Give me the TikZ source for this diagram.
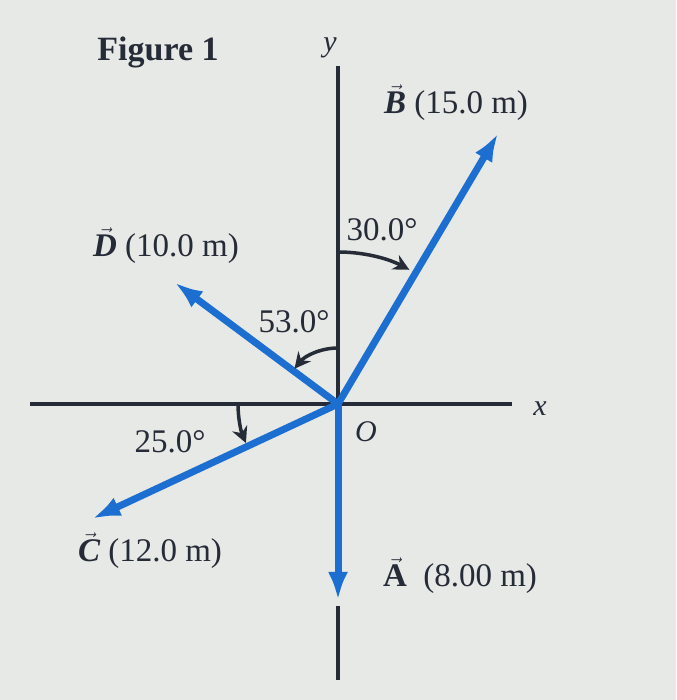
\documentclass[tikz,border=0pt]{standalone}
\usepackage{fontspec}
\setmainfont{Liberation Serif}
\usetikzlibrary{arrows.meta}
\definecolor{bgc}{HTML}{E6E9E5}
\definecolor{vecblue}{HTML}{1C6FD0}
\definecolor{axisc}{HTML}{262B38}
\definecolor{txtc}{HTML}{262B38}
\newcommand\vlab[1]{\ensuremath{\vec{\mbox{#1}}}}
\begin{document}
\begin{tikzpicture}[x=1pt,y=1pt,
  lab/.style={text=txtc,font=\fontsize{33}{38}\selectfont,inner sep=0pt},
  axisline/.style={draw=axisc,line width=4pt},
  vecline/.style={draw=vecblue,line width=7pt,-{Latex[length=28pt,width=20pt]},shorten >=-4pt},
  arcarrow/.style={draw=axisc,line width=3.5pt,-{Stealth[length=16pt,width=16pt]}}]
\fill[bgc] (0,0) rectangle (676,700);
\useasboundingbox (0,0) rectangle (676,700);
\coordinate (O) at (338,296);
\coordinate (ytop) at (338,634);
\coordinate (ylow1) at (338,94);
\coordinate (ylow2) at (338,20);
\coordinate (xl) at (30,296);
\coordinate (xr) at (512,296);
\coordinate (Btip) at (496,563);
\coordinate (Dtip) at (178,415);
\coordinate (Ctip) at (96,183);
\coordinate (Atip) at (338,104);
% axes
\draw[axisline] (xl) -- (xr);
\draw[axisline] (ytop) -- (O);
\draw[axisline] (ylow1) -- (ylow2);
% vectors
\draw[vecline] (O) -- (Atip);
\draw[vecline] (O) -- (Ctip);
\draw[vecline] (O) -- (Dtip);
\draw[vecline] (O) -- (Btip);
% angle arcs
\draw[arcarrow] ([shift={(90:152)}]O) arc[start angle=90,end angle=62,radius=152];
\draw[arcarrow] ([shift={(90:56)}]O) arc[start angle=90,end angle=141,radius=56];
\draw[arcarrow] ([shift={(180:100)}]O) arc[start angle=180,end angle=203,radius=100];
% labels
\node[lab,font=\fontsize{34}{38}\selectfont\bfseries] (fig) at (158,648) {Figure 1};
\node[lab,font=\fontsize{30}{34}\selectfont\itshape] (ylab) at (330,652) {y};
\node[lab,font=\fontsize{30}{34}\selectfont\itshape] (xlab) at (540,291) {x};
\node[lab,font=\fontsize{30}{34}\selectfont\itshape] (olab) at (366,268) {O};
\node[lab] (blab) at (456,597) {\vlab{\bfseries\itshape B} (15.0 m)};
\node[lab] (dlab) at (166,454) {\vlab{\bfseries\itshape D} (10.0 m)};
\node[lab] (clab) at (150,149) {\vlab{\bfseries\itshape C} (12.0 m)};
\node[lab] (alab) at (460,124) {\vlab{\bfseries A}\ \ (8.00 m)};
\node[lab] (a30) at (382,470) {30.0\textdegree};
\node[lab] (a53) at (294,378) {53.0\textdegree};
\node[lab] (a25) at (170,258) {25.0\textdegree};
\end{tikzpicture}
\end{document}
